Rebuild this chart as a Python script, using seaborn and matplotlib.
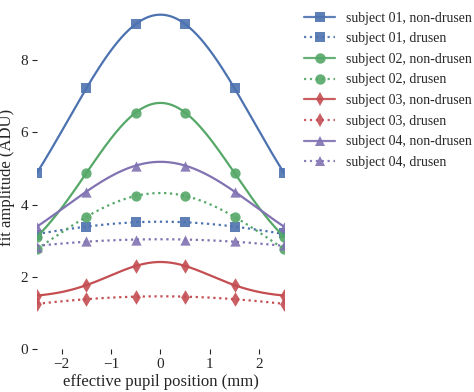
import matplotlib
matplotlib.use("Agg")
import matplotlib.pyplot as plt
import numpy as np
import seaborn as sns
from matplotlib.lines import Line2D

# pupil positions (mm)
positions = [-2.5, -1.5, -0.5, 0.5, 1.5, 2.5]

subjects = ["01", "02", "03", "04"]
non_drusen = {
    "01": [4.88, 7.22, 9.00, 9.00, 7.22, 4.88],
    "02": [3.11, 4.87, 6.55, 6.55, 4.87, 3.11],
    "03": [1.48, 1.77, 2.30, 2.30, 1.77, 1.48],
    "04": [3.39, 4.36, 5.08, 5.08, 4.36, 3.39],
}
drusen = {
    "01": [3.17, 3.39, 3.51, 3.51, 3.39, 3.20],
    "02": [2.77, 3.66, 4.24, 4.24, 3.66, 2.77],
    "03": [1.25, 1.38, 1.45, 1.45, 1.38, 1.25],
    "04": [2.83, 2.99, 3.02, 3.02, 2.99, 2.87],
}

colors = ["#4C72B0", "#55A868", "#C44E52", "#8172B2"]
markers = ["s", "o", "d", "^"]


def gaussian_fit(x, y):
    # offset gaussian, sigma by grid search, amplitude/offset by least squares
    x = np.asarray(x)
    y = np.asarray(y)
    best = None
    for s in np.linspace(0.3, 6.0, 400):
        g = np.exp(-x ** 2 / (2 * s ** 2))
        design = np.column_stack([g, np.ones_like(g)])
        coef, *_ = np.linalg.lstsq(design, y, rcond=None)
        err = np.sum((design @ coef - y) ** 2)
        if best is None or err < best[0]:
            best = (err, s, coef)
    _, s, (amp, off) = best
    return lambda t: off + amp * np.exp(-t ** 2 / (2 * s ** 2))


sns.set_style("ticks")
plt.rcParams["font.family"] = ["Liberation Serif", "DejaVu Serif"]

fig = plt.figure(figsize=(4.74, 3.92), dpi=100)
ax = fig.add_axes([0.078, 0.1097, 0.521, 0.875])

xs = np.linspace(positions[0], positions[-1], 200)
handles = []
labels = []
for subj, color, marker in zip(subjects, colors, markers):
    for kind, values, ls in [("non-drusen", non_drusen[subj], "-"),
                             ("drusen", drusen[subj], ":")]:
        curve = gaussian_fit(positions, values)
        sns.lineplot(x=xs, y=curve(xs), color=color, linestyle=ls,
                     linewidth=1.6, ax=ax)
        sns.scatterplot(x=positions, y=values, marker=marker, color=color,
                        s=55, alpha=0.9, linewidth=0, ax=ax)
        handles.append(Line2D([], [], color=color, linestyle=ls, linewidth=1.6,
                              marker=marker, markersize=7.5, alpha=0.9,
                              markeredgewidth=0))
        labels.append(f"subject {subj}, {kind}")

ax.set_xlim(-2.5, 2.5)
ax.set_ylim(0, 9.5)
ax.set_xticks([-2, -1, 0, 1, 2])
ax.set_yticks([0, 2, 4, 6, 8])
ax.set_xlabel("effective pupil position (mm)", fontsize=12, labelpad=2)
ax.set_ylabel("fit amplitude (ADU)", fontsize=12, labelpad=4)
ax.tick_params(labelsize=11, length=3.5, pad=3)
sns.despine(ax=ax, left=True, bottom=True)

ax.legend(handles, labels, loc="upper left", bbox_to_anchor=(1.06, 1.0),
          frameon=False, fontsize=10, handlelength=2.2, labelspacing=0.55,
          borderaxespad=0)

fig.savefig("out.png", dpi=100)
